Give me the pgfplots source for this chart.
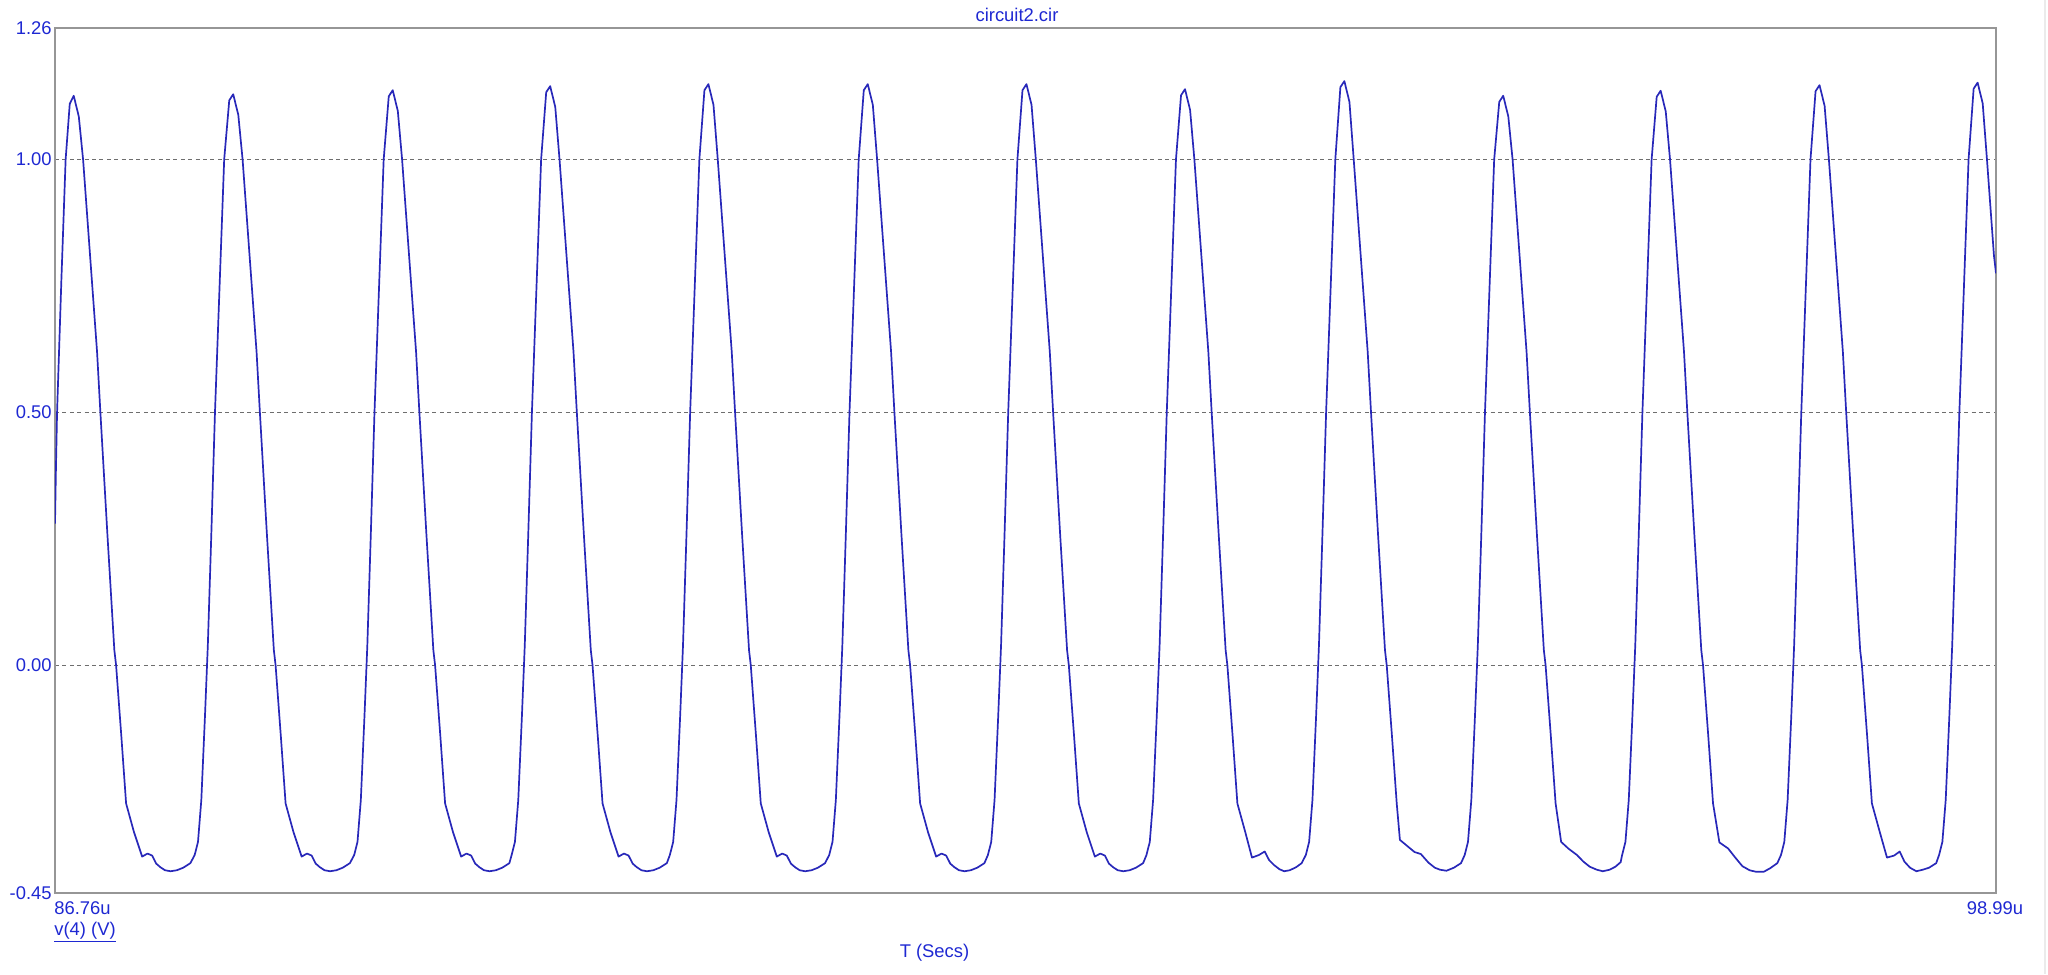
\documentclass[border=0pt]{standalone}
\usepackage{fontspec}
\setmainfont{Liberation Sans}
\usepackage{pgfplots}
\pgfplotsset{compat=1.18}
\definecolor{txtblue}{RGB}{30,40,210}
\definecolor{wave}{RGB}{40,40,185}
\definecolor{axgray}{RGB}{150,150,150}
\definecolor{gridgray}{RGB}{110,110,110}
\newcommand{\lblfont}{\fontsize{9.2pt}{11pt}\selectfont}
\begin{document}
\begin{tikzpicture}
\begin{axis}[
  scale only axis,
  width=970.5pt, height=432.5pt,
  xmin=86.76, xmax=98.99,
  ymin=-0.45, ymax=1.26,
  xtick=\empty,
  ytick={-0.45,0,0.5,1,1.26},
  yticklabels={-0.45,0.00,0.50,1.00,1.26},
  major tick length=0pt,
  yticklabel style={font=\lblfont, text=txtblue, inner sep=0pt, xshift=-1.5pt},
  axis line style={axgray, line width=0.8pt},
  ymajorgrids,
  grid style={gridgray, dash pattern=on 2pt off 1.7pt, line width=0.45pt},
  clip=true,
]
\addplot[wave, line width=0.85pt, line join=round, mark=none] table[row sep=\\] {
x y\\
86.760 0.28\\ 86.766 0.39\\ 86.773 0.50\\ 86.800 0.76\\ 86.827 1.00\\ 86.853 1.110\\ 86.878 1.126\\
86.910 1.085\\ 86.937 1.00\\ 86.981 0.81\\ 87.025 0.62\\ 87.046 0.50\\ 87.090 0.26\\ 87.134 0.03\\ 87.145 0.00\\ 87.178 -0.14\\ 87.208 -0.273\\ 87.258 -0.33\\ 87.309 -0.378\\ 87.343 -0.372\\ 87.372 -0.376\\ 87.398 -0.392\\ 87.424 -0.399\\ 87.453 -0.405\\ 87.488 -0.407\\ 87.528 -0.405\\ 87.568 -0.400\\ 87.613 -0.391\\
87.640 -0.375\\ 87.661 -0.349\\ 87.682 -0.266\\ 87.705 -0.10\\ 87.723 0.04\\ 87.745 0.26\\ 87.768 0.50\\ 87.782 0.62\\ 87.804 0.81\\ 87.826 1.00\\ 87.858 1.117\\ 87.883 1.129\\
87.915 1.088\\ 87.942 1.00\\ 87.986 0.81\\ 88.030 0.62\\ 88.051 0.50\\ 88.095 0.26\\ 88.139 0.03\\ 88.150 0.00\\ 88.183 -0.14\\ 88.213 -0.273\\ 88.263 -0.33\\ 88.314 -0.378\\ 88.348 -0.372\\ 88.377 -0.376\\ 88.403 -0.392\\ 88.429 -0.399\\ 88.458 -0.405\\ 88.493 -0.407\\ 88.533 -0.405\\ 88.573 -0.400\\ 88.618 -0.391\\
88.645 -0.375\\ 88.666 -0.349\\ 88.687 -0.266\\ 88.710 -0.10\\ 88.728 0.04\\ 88.750 0.26\\ 88.773 0.50\\ 88.787 0.62\\ 88.809 0.81\\ 88.831 1.00\\ 88.863 1.125\\ 88.888 1.137\\
88.920 1.096\\ 88.947 1.00\\ 88.991 0.81\\ 89.035 0.62\\ 89.056 0.50\\ 89.100 0.26\\ 89.144 0.03\\ 89.155 0.00\\ 89.188 -0.14\\ 89.218 -0.273\\ 89.268 -0.33\\ 89.319 -0.378\\ 89.353 -0.372\\ 89.382 -0.376\\ 89.408 -0.392\\ 89.434 -0.399\\ 89.463 -0.405\\ 89.498 -0.407\\ 89.538 -0.405\\ 89.578 -0.400\\ 89.623 -0.391\\
89.637 -0.375\\ 89.658 -0.349\\ 89.679 -0.266\\ 89.702 -0.10\\ 89.720 0.04\\ 89.742 0.26\\ 89.765 0.50\\ 89.779 0.62\\ 89.801 0.81\\ 89.823 1.00\\ 89.855 1.133\\ 89.880 1.145\\
89.912 1.104\\ 89.939 1.00\\ 89.983 0.81\\ 90.027 0.62\\ 90.048 0.50\\ 90.092 0.26\\ 90.136 0.03\\ 90.147 0.00\\ 90.180 -0.14\\ 90.210 -0.273\\ 90.260 -0.33\\ 90.311 -0.378\\ 90.345 -0.372\\ 90.374 -0.376\\ 90.400 -0.392\\ 90.426 -0.399\\ 90.455 -0.405\\ 90.490 -0.407\\ 90.530 -0.405\\ 90.570 -0.400\\ 90.615 -0.391\\
90.634 -0.375\\ 90.655 -0.349\\ 90.676 -0.266\\ 90.699 -0.10\\ 90.717 0.04\\ 90.739 0.26\\ 90.762 0.50\\ 90.776 0.62\\ 90.798 0.81\\ 90.820 1.00\\ 90.852 1.137\\ 90.877 1.149\\
90.909 1.108\\ 90.936 1.00\\ 90.980 0.81\\ 91.024 0.62\\ 91.045 0.50\\ 91.089 0.26\\ 91.133 0.03\\ 91.144 0.00\\ 91.177 -0.14\\ 91.207 -0.273\\ 91.257 -0.33\\ 91.308 -0.378\\ 91.342 -0.372\\ 91.371 -0.376\\ 91.397 -0.392\\ 91.423 -0.399\\ 91.452 -0.405\\ 91.487 -0.407\\ 91.527 -0.405\\ 91.567 -0.400\\ 91.612 -0.391\\
91.638 -0.375\\ 91.659 -0.349\\ 91.680 -0.266\\ 91.703 -0.10\\ 91.721 0.04\\ 91.743 0.26\\ 91.766 0.50\\ 91.780 0.62\\ 91.802 0.81\\ 91.824 1.00\\ 91.856 1.137\\ 91.881 1.149\\
91.913 1.108\\ 91.940 1.00\\ 91.984 0.81\\ 92.028 0.62\\ 92.049 0.50\\ 92.093 0.26\\ 92.137 0.03\\ 92.148 0.00\\ 92.181 -0.14\\ 92.211 -0.273\\ 92.261 -0.33\\ 92.312 -0.378\\ 92.346 -0.372\\ 92.375 -0.376\\ 92.401 -0.392\\ 92.427 -0.399\\ 92.456 -0.405\\ 92.491 -0.407\\ 92.531 -0.405\\ 92.571 -0.400\\ 92.616 -0.391\\
92.638 -0.375\\ 92.659 -0.349\\ 92.680 -0.266\\ 92.703 -0.10\\ 92.721 0.04\\ 92.743 0.26\\ 92.766 0.50\\ 92.780 0.62\\ 92.802 0.81\\ 92.824 1.00\\ 92.856 1.137\\ 92.881 1.149\\
92.913 1.108\\ 92.940 1.00\\ 92.984 0.81\\ 93.028 0.62\\ 93.049 0.50\\ 93.093 0.26\\ 93.137 0.03\\ 93.148 0.00\\ 93.181 -0.14\\ 93.211 -0.273\\ 93.261 -0.33\\ 93.312 -0.378\\ 93.346 -0.372\\ 93.375 -0.376\\ 93.401 -0.392\\ 93.427 -0.399\\ 93.456 -0.405\\ 93.491 -0.407\\ 93.531 -0.405\\ 93.571 -0.400\\ 93.616 -0.391\\
93.637 -0.375\\ 93.658 -0.349\\ 93.679 -0.266\\ 93.702 -0.10\\ 93.720 0.04\\ 93.742 0.26\\ 93.765 0.50\\ 93.779 0.62\\ 93.801 0.81\\ 93.823 1.00\\ 93.855 1.127\\ 93.880 1.139\\
93.912 1.098\\ 93.939 1.00\\ 93.983 0.81\\ 94.027 0.62\\ 94.048 0.50\\ 94.092 0.26\\ 94.136 0.03\\ 94.147 0.00\\ 94.180 -0.14\\ 94.210 -0.273\\ 94.260 -0.33\\ 94.302 -0.380\\ 94.345 -0.375\\ 94.382 -0.368\\ 94.410 -0.385\\ 94.442 -0.395\\ 94.475 -0.403\\ 94.505 -0.407\\ 94.540 -0.405\\ 94.580 -0.399\\ 94.615 -0.391\\
94.641 -0.375\\ 94.662 -0.349\\ 94.683 -0.266\\ 94.706 -0.10\\ 94.724 0.04\\ 94.746 0.26\\ 94.769 0.50\\ 94.783 0.62\\ 94.805 0.81\\ 94.827 1.00\\ 94.859 1.143\\ 94.884 1.155\\
94.916 1.114\\ 94.943 1.00\\ 94.987 0.81\\ 95.031 0.62\\ 95.052 0.50\\ 95.096 0.26\\ 95.140 0.03\\ 95.151 0.00\\ 95.184 -0.14\\ 95.214 -0.273\\ 95.234 -0.345\\ 95.326 -0.369\\ 95.366 -0.373\\ 95.414 -0.390\\ 95.454 -0.400\\ 95.487 -0.404\\ 95.527 -0.406\\ 95.574 -0.400\\ 95.619 -0.391\\
95.642 -0.375\\ 95.663 -0.349\\ 95.684 -0.266\\ 95.707 -0.10\\ 95.725 0.04\\ 95.747 0.26\\ 95.770 0.50\\ 95.784 0.62\\ 95.806 0.81\\ 95.828 1.00\\ 95.860 1.114\\ 95.885 1.126\\
95.917 1.085\\ 95.944 1.00\\ 95.988 0.81\\ 96.032 0.62\\ 96.053 0.50\\ 96.097 0.26\\ 96.141 0.03\\ 96.152 0.00\\ 96.185 -0.14\\ 96.215 -0.273\\ 96.250 -0.349\\ 96.295 -0.362\\ 96.350 -0.375\\ 96.390 -0.388\\ 96.430 -0.398\\ 96.475 -0.404\\ 96.512 -0.407\\ 96.555 -0.404\\ 96.592 -0.398\\ 96.625 -0.389\\
96.634 -0.375\\ 96.655 -0.349\\ 96.676 -0.266\\ 96.699 -0.10\\ 96.717 0.04\\ 96.739 0.26\\ 96.762 0.50\\ 96.776 0.62\\ 96.798 0.81\\ 96.820 1.00\\ 96.852 1.124\\ 96.877 1.136\\
96.909 1.095\\ 96.936 1.00\\ 96.980 0.81\\ 97.024 0.62\\ 97.045 0.50\\ 97.089 0.26\\ 97.133 0.03\\ 97.144 0.00\\ 97.177 -0.14\\ 97.207 -0.273\\ 97.247 -0.350\\ 97.302 -0.362\\ 97.347 -0.380\\ 97.392 -0.397\\ 97.437 -0.405\\ 97.477 -0.408\\ 97.527 -0.408\\ 97.567 -0.401\\ 97.612 -0.391\\
97.635 -0.375\\ 97.656 -0.349\\ 97.677 -0.266\\ 97.700 -0.10\\ 97.718 0.04\\ 97.740 0.26\\ 97.763 0.50\\ 97.777 0.62\\ 97.799 0.81\\ 97.821 1.00\\ 97.853 1.135\\ 97.878 1.147\\
97.910 1.106\\ 97.937 1.00\\ 97.981 0.81\\ 98.025 0.62\\ 98.046 0.50\\ 98.090 0.26\\ 98.134 0.03\\ 98.145 0.00\\ 98.178 -0.14\\ 98.208 -0.273\\ 98.258 -0.33\\ 98.303 -0.380\\ 98.348 -0.376\\ 98.383 -0.368\\ 98.413 -0.388\\ 98.448 -0.400\\ 98.488 -0.407\\ 98.528 -0.404\\ 98.568 -0.400\\ 98.613 -0.391\\
98.631 -0.375\\ 98.652 -0.349\\ 98.673 -0.266\\ 98.696 -0.10\\ 98.714 0.04\\ 98.736 0.26\\ 98.759 0.50\\ 98.773 0.62\\ 98.795 0.81\\ 98.817 1.00\\ 98.849 1.140\\ 98.874 1.152\\
98.906 1.111\\ 98.933 1.00\\ 98.977 0.81\\ 98.990 0.775\\
};
\end{axis}
% labels (1px = 0.5pt, origin = lower-left corner of the axis box)
\node[font=\lblfont, text=txtblue, anchor=base, inner sep=0pt] at (481pt,435.5pt) {circuit2.cir};
\node[font=\lblfont, text=txtblue, anchor=base west, inner sep=0pt] at (-0.5pt,-10.5pt) {86.76u};
\node[font=\lblfont, text=txtblue, anchor=base, inner sep=0pt] at (970pt,-10.5pt) {98.99u};
\node[font=\lblfont, text=txtblue, anchor=base west, inner sep=0pt] at (-0.5pt,-21pt) {\underline{v(4) (V)}};
\node[font=\lblfont, text=txtblue, anchor=base, inner sep=0pt] at (439.75pt,-32pt) {T (Secs)};
\draw[black!8, line width=0.6pt] (995pt,-40.5pt) -- (995pt,446.5pt);
\pgfresetboundingbox
\path[use as bounding box] (-27.5pt,-40.5pt) rectangle (996.5pt,446.5pt);
\end{tikzpicture}
\end{document}
